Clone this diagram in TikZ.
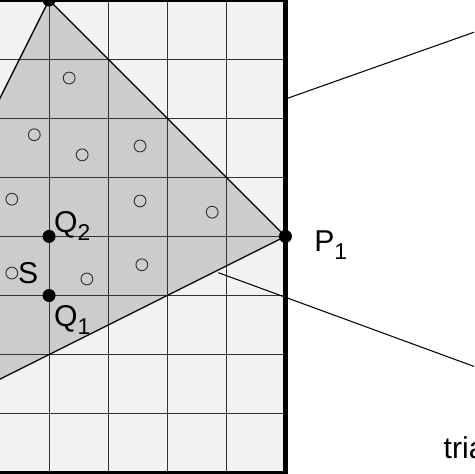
\documentclass[tikz,border=0pt]{standalone}
\usepackage{fontspec}
\setmainfont{Liberation Sans}
\usetikzlibrary{positioning}
\definecolor{cellgray}{gray}{0.95}
\definecolor{trigray}{gray}{0.80}
\definecolor{gridgray}{gray}{0.2}
\newcommand{\ptsub}[1]{\raisebox{-0.26em}{\fontsize{11}{11}\selectfont #1}}

\begin{document}
\begin{tikzpicture}[
  vertex_dot/.style={circle, fill=black, inner sep=0pt, minimum size=0.22cm},
  sample_pt/.style={draw=black!80, circle, inner sep=0pt, minimum size=0.2cm, line width=0.45pt},
  pt_label/.style={anchor=base west, inner sep=0pt, font=\fontsize{14.5}{16}\selectfont}
]
\useasboundingbox (-0.83,-8.02) rectangle (7.19,0);
\begin{scope}
\clip (-0.83,-8.02) rectangle (7.19,0);

% plot the pixel cells
\fill[cellgray] (-2,0) rectangle (4,-8);

\coordinate (top_vertex) at (0,0);
\coordinate (left_vertex) at (-4,-8);
\coordinate (right_vertex) at (4,-4);
\fill[trigray] (top_vertex) -- (right_vertex) -- (left_vertex) -- cycle;

\draw[gridgray, line width=0.5pt] (-2,-8) grid (4,0);
\draw[line width=2pt] (-2,0) -- (4,0) -- (4,-8) -- (-2,-8);

% plot the triangle edges
\draw[line width=0.6pt] (top_vertex) -- (right_vertex) -- (left_vertex) -- cycle;

% lines to the enlarged view
\coordinate (zoom_top_start) at (4,-1.675);
\coordinate (zoom_top_end) at (7.6,-0.40);
\coordinate (zoom_bot_start) at (2.865,-4.614);
\coordinate (zoom_bot_end) at (7.6,-6.35);
\draw[line width=0.5pt] (zoom_top_start) -- (zoom_top_end);
\draw[line width=0.5pt] (zoom_bot_start) -- (zoom_bot_end);

% plot the sample points
\node[sample_pt] (s_1) at (0.34,-1.32) {};
\node[sample_pt] (s_2) at (-0.25,-2.28) {};
\node[sample_pt] (s_3) at (0.56,-2.62) {};
\node[sample_pt] (s_4) at (1.54,-2.47) {};
\node[sample_pt] (s_5) at (-0.63,-3.37) {};
\node[sample_pt] (s_6) at (1.54,-3.40) {};
\node[sample_pt] (s_7) at (2.76,-3.59) {};
\node[sample_pt] (S) at (-0.63,-4.62) {};
\node[sample_pt] (s_9) at (0.64,-4.72) {};
\node[sample_pt] (s_10) at (1.57,-4.48) {};

% plot the vertices and the edge points
\node[vertex_dot] (P_0) at (top_vertex) {};
\node[vertex_dot] (P_1) at (right_vertex) {};
\node[vertex_dot] (Q_2) at (0,-4) {};
\node[vertex_dot] (Q_1) at (0,-5) {};

\node[pt_label] (Q_2_label) at (0.08,-3.93) {Q\ptsub{2}};
\node[pt_label] (Q_1_label) at (0.08,-5.53) {Q\ptsub{1}};
\node[pt_label] (S_label) at (-0.53,-4.80) {S};
\node[pt_label] (P_1_label) at (4.48,-4.26) {P\ptsub{1}};
\node[pt_label] (tri_label) at (6.67,-7.76) {triangle};
\end{scope}

\end{tikzpicture}
\end{document}
